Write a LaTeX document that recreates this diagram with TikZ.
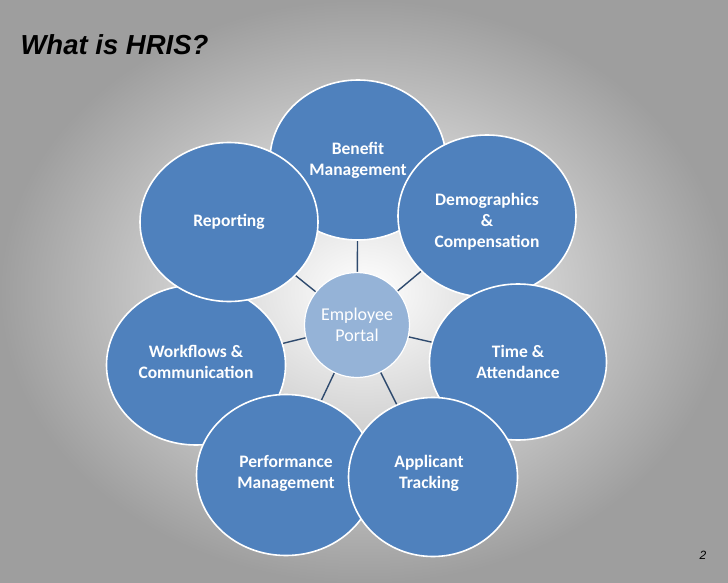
\documentclass[tikz,border=0pt]{standalone}
\usepackage{fontspec}
\setmainfont{Carlito}
\newfontfamily\arialf{Liberation Sans}
\usetikzlibrary{shapes.geometric}
\definecolor{outerblue}{HTML}{4F81BD}
\definecolor{innerblue}{HTML}{95B3D7}
\definecolor{spoke}{HTML}{2E4A6E}
\tikzset{
  outer/.style={ellipse, fill=outerblue, draw=white, line width=1.6pt, inner sep=0pt},
  lbl/.style={text=white, font=\bfseries\fontsize{17.5}{21}\selectfont, align=center},
  spokeline/.style={draw=spoke, line width=1.4pt}
}
\begin{document}
\begin{tikzpicture}[x=1pt,y=-1pt]
\useasboundingbox (0,0) rectangle (728,583);
\shade[inner color=white, outer color=black!38] (0,0) rectangle (728,583);
\node[anchor=west, font=\arialf\bfseries\itshape\fontsize{27.5}{32}\selectfont] (title) at (17,45) {What is HRIS?};
\node[font=\arialf\itshape\fontsize{12}{14}\selectfont] (pg) at (703,555) {2};
\coordinate (cc) at (357,325);
\foreach \x/\y in {358/160, 487/216, 518/362, 433/477, 286/475, 196/365, 229/222}{
  \path[spokeline] (cc) -- (\x,\y);
}
\node[outer, minimum width=176pt, minimum height=160pt] (ben) at (358,160) {};
\node[outer, minimum width=178pt, minimum height=162pt] (dem) at (487,216) {};
\node[outer, minimum width=177pt, minimum height=156pt] (tim) at (518,362) {};
\node[outer, minimum width=179pt, minimum height=160pt] (wor) at (196,365) {};
\node[outer, minimum width=179pt, minimum height=161pt] (per) at (286,475) {};
\node[outer, minimum width=169pt, minimum height=159pt] (app) at (433,477) {};
\node[outer, minimum width=178pt, minimum height=159pt] (rep) at (229,222) {};
\node[lbl] (bent) at (358,160) {Benefit\\Management};
\node[lbl] (demt) at (487,222) {Demographics\\\&\\Compensation};
\node[lbl] (timt) at (518,362) {Time \&\\Attendance};
\node[lbl] (wort) at (196,362) {Workflows \&\\Communication};
\node[lbl] (pert) at (286,473) {Performance\\Management};
\node[lbl] (appt) at (429,473) {Applicant\\Tracking};
\node[lbl] (rept) at (229,222) {Reporting};
\node[circle, fill=innerblue, draw=white, line width=1.2pt, minimum size=105pt, text=white, font=\fontsize{18}{21}\selectfont, align=center] (emp) at (cc) {Employee\\Portal};
\end{tikzpicture}
\end{document}
